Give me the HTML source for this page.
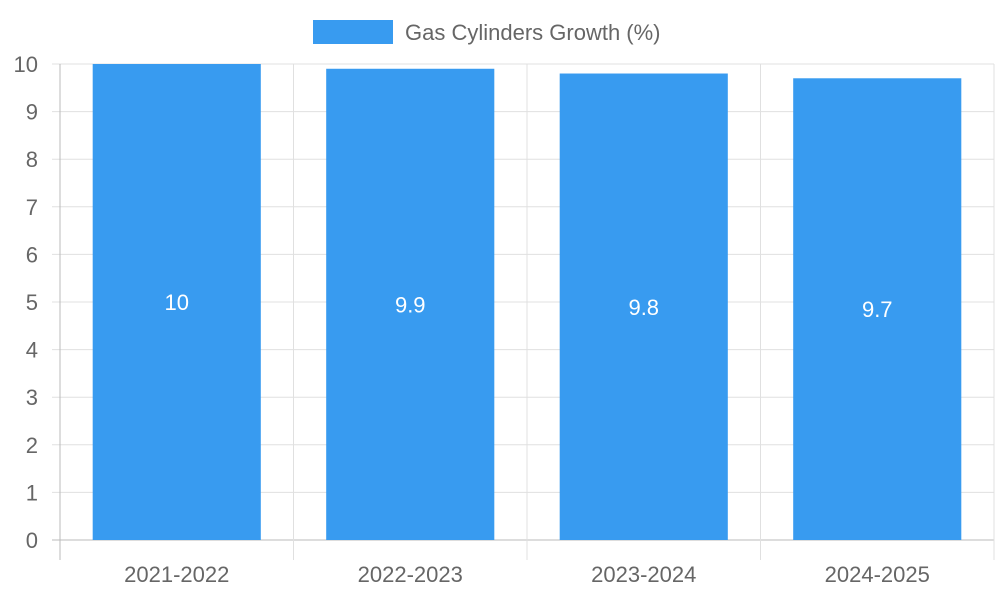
<!DOCTYPE html>
<html><head><meta charset="utf-8"><style>
body{margin:0;background:#fff;}
svg{display:block;font-family:"Liberation Sans",sans-serif;}
</style></head><body>
<svg id="chart" width="1000" height="600" viewBox="0 0 1000 600">
<g id="grid"></g>
<g id="bars"></g>
<g id="labels"></g>
<g>
<rect x="313" y="20" width="80" height="24" fill="#389bf0"/>
<text x="405" y="40" font-size="22" fill="#666">Gas Cylinders Growth (%)</text>
</g>
</svg>
<script>
const categories = ["2021-2022","2022-2023","2023-2024","2024-2025"];
const values = [10, 9.9, 9.8, 9.7];
const yTicks = [0,1,2,3,4,5,6,7,8,9,10];
const NS="http://www.w3.org/2000/svg";
const L=60,R=994,T=64,B=540,yMax=10;
const y=v=>B-(v/yMax)*(B-T);
const bw=(R-L)/categories.length;
const x=i=>L+bw*i;
function mk(tag,attrs,parent){const e=document.createElementNS(NS,tag);for(const k in attrs)e.setAttribute(k,attrs[k]);parent.appendChild(e);return e;}
const grid=document.getElementById('grid'),bars=document.getElementById('bars'),labels=document.getElementById('labels');
yTicks.forEach(t=>{
  const ln=mk('line',{x1:52,x2:R,y1:y(t),y2:y(t),stroke:t===0?'#bbb':'#e0e0e0','stroke-width':1},grid);
  
  
  const tx=mk('text',{x:38,y:y(t)+8,'text-anchor':'end','font-size':22,fill:'#666'},grid);
  tx.textContent=t;
  
  
});
for(let i=0;i<=categories.length;i++){
  const ln=mk('line',{x1:x(i),x2:x(i),y1:T,y2:560,stroke:i===0?'#bbb':'#e0e0e0','stroke-width':1},grid);
  
  
}
categories.forEach((c,i)=>{
  const cx=x(i)+bw/2,w=bw*0.72;
  const r=mk('rect',{x:cx-w/2,y:y(values[i]),width:w,height:B-y(values[i]),fill:'#389bf0'},bars);
  
  
  const v=mk('text',{x:cx,y:(y(values[i])+B)/2+8,'text-anchor':'middle','font-size':22,fill:'#fff'},labels);
  v.textContent=values[i];
  
  
  const t=mk('text',{x:cx,y:582,'text-anchor':'middle','font-size':22,fill:'#666'},labels);
  t.textContent=c;
  
  
});
</script>
</body></html>
